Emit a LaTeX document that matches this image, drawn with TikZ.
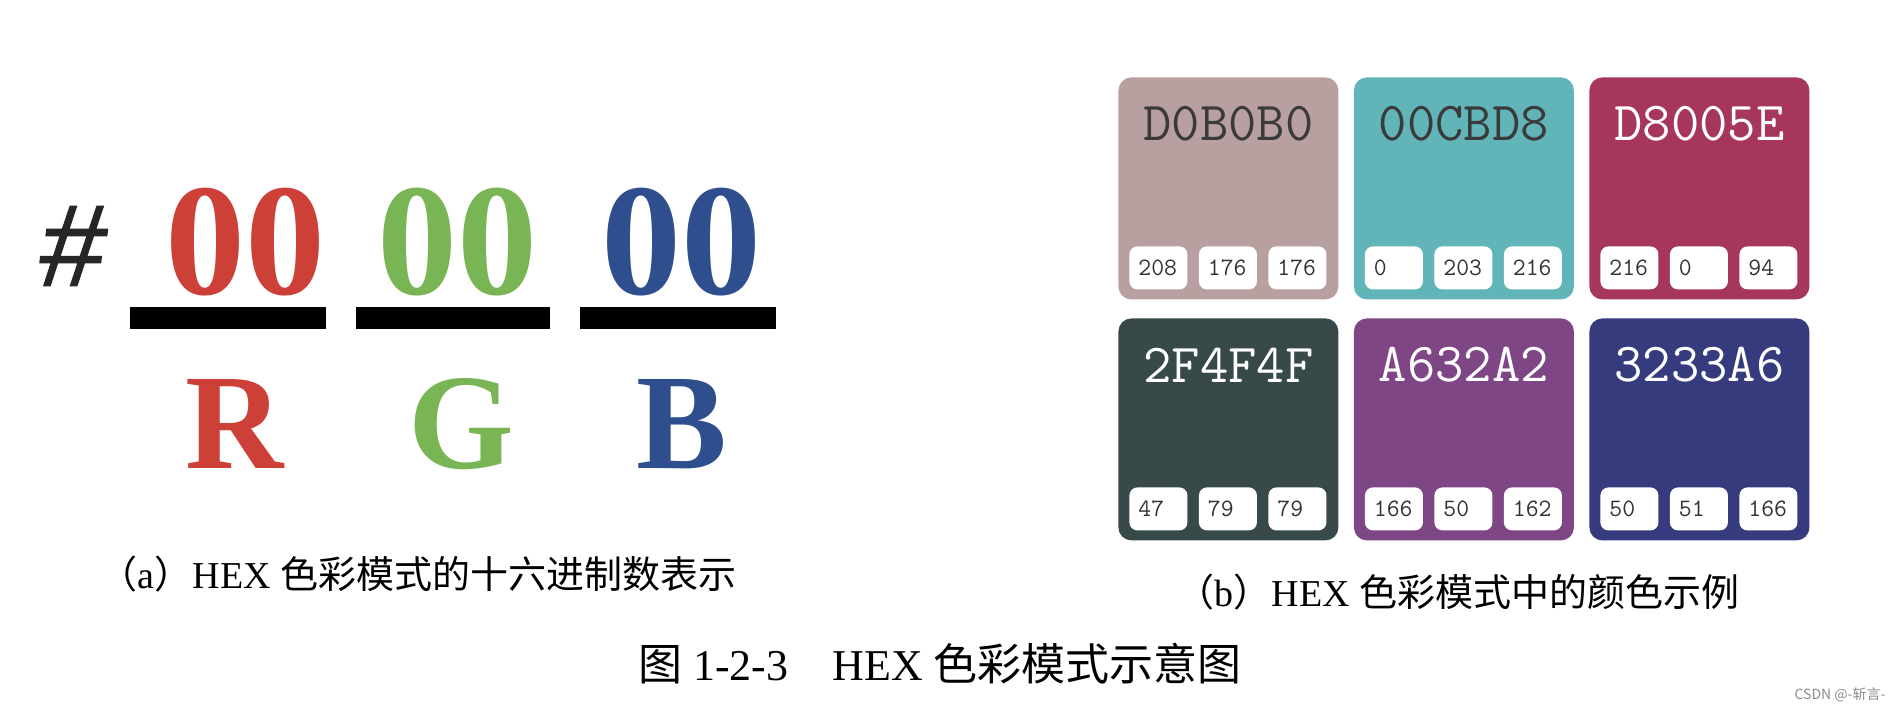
\documentclass[tikz,border=0pt]{standalone}
\usepackage{fontspec}
\setmainfont{Liberation Serif}
\newfontfamily\cjk{Noto Sans CJK SC}
\newfontfamily\hashfont[FakeSlant=0.12,FakeBold=1.2]{Liberation Sans}
\usetikzlibrary{positioning}

\definecolor{hexred}{HTML}{CC4038}
\definecolor{hexgreen}{HTML}{7AB555}
\definecolor{hexblue}{HTML}{2F4E8E}
\definecolor{hexdark}{HTML}{3A3A3A}
\definecolor{valtext}{HTML}{333333}
\definecolor{swatchA}{HTML}{B8A0A1}
\definecolor{swatchB}{HTML}{61B4B8}
\definecolor{swatchC}{HTML}{A6365A}
\definecolor{swatchD}{HTML}{384949}
\definecolor{swatchE}{HTML}{7E4685}
\definecolor{swatchF}{HTML}{363B7D}

\begin{document}
\begin{tikzpicture}[x=0.5pt, y=-0.5pt,
    digits/.style={font=\bfseries\fontsize{80}{80}\selectfont, inner sep=0pt},
    channel/.style={font=\bfseries\fontsize{68}{68}\selectfont, inner sep=0pt},
    swatchbox/.style={rectangle, rounded corners=6.5pt, minimum width=110pt, minimum height=111pt, inner sep=0pt, anchor=north west},
    hexlabel/.style={font=\ttfamily\fontsize{27.5}{27.5}\selectfont, inner sep=0pt},
    valuebox/.style={rectangle, fill=white, rounded corners=4pt, minimum height=21.5pt, text width=20pt, inner xsep=4.5pt, inner ysep=0pt, align=left, anchor=north west, text=valtext, font=\ttfamily\fontsize{12.5}{12.5}\selectfont},
    caption/.style={font=\fontsize{19}{19}\selectfont, inner sep=0pt},]
    \useasboundingbox (0,0) rectangle (1894,708);
    % left: hex code
    \node[inner sep=0pt, text=black!85, font=\hashfont\fontsize{58}{58}\selectfont] (hash) at (69,246) {\#};
    \node[digits, text=hexred]   (red)   at (245,242) {00};
    \node[digits, text=hexgreen] (green) at (457,242) {00};
    \node[digits, text=hexblue]  (blue)  at (681,242) {00};
    \fill[black] (130,307) rectangle (326,329);
    \fill[black] (356,307) rectangle (550,329);
    \fill[black] (580,307) rectangle (776,329);
    \node[channel, text=hexred]   (R) at (235,424) {R};
    \node[channel, text=hexgreen] (G) at (461,424) {G};
    \node[channel, text=hexblue]  (B) at (682,424) {B};
    % right: swatches
    \foreach \name/\col/\row/\fillc/\txtc/\hex/\vr/\vg/\vb in {
        swA/0/0/swatchA/hexdark/D0B0B0/208/176/176,
        swB/1/0/swatchB/hexdark/00CBD8/0/203/216,
        swC/2/0/swatchC/white/D8005E/216/0/94,
        swD/0/1/swatchD/white/2F4F4F/47/79/79,
        swE/1/1/swatchE/white/A632A2/166/50/162,
        swF/2/1/swatchF/white/3233A6/50/51/166}
    {
        \node[swatchbox, fill=\fillc] (\name) at (1118+235.5*\col, 77+241*\row) {};
        \node[hexlabel, text=\txtc] (\name-hex) at ([yshift=-23.5pt]\name.north) {\hex};
        \foreach \v [count=\i from 0] in {\vr,\vg,\vb}
            \node[valuebox] (\name-\i) at ([xshift=5.5pt+34.75pt*\i, yshift=-84.5pt]\name.north west) {\v};
    }
    % captions
    \node[caption] (capA) at (418,574) {{\cjk （}a{\cjk ）}HEX {\cjk 色彩模式的十六进制数表示}};
    \node[caption] (capB) at (1458,592) {{\cjk （}b{\cjk ）}HEX {\cjk 色彩模式中的颜色示例}};
    \node[inner sep=0pt, font=\fontsize{22}{22}\selectfont] (title) at (940,664) {{\cjk 图} 1-2-3\quad HEX {\cjk 色彩模式示意图}};
    \node[inner sep=0pt, text=black!45, font=\cjk\fontsize{7}{7}\selectfont] (mark) at (1840,695) {CSDN @-斩言-};
\end{tikzpicture}
\end{document}
